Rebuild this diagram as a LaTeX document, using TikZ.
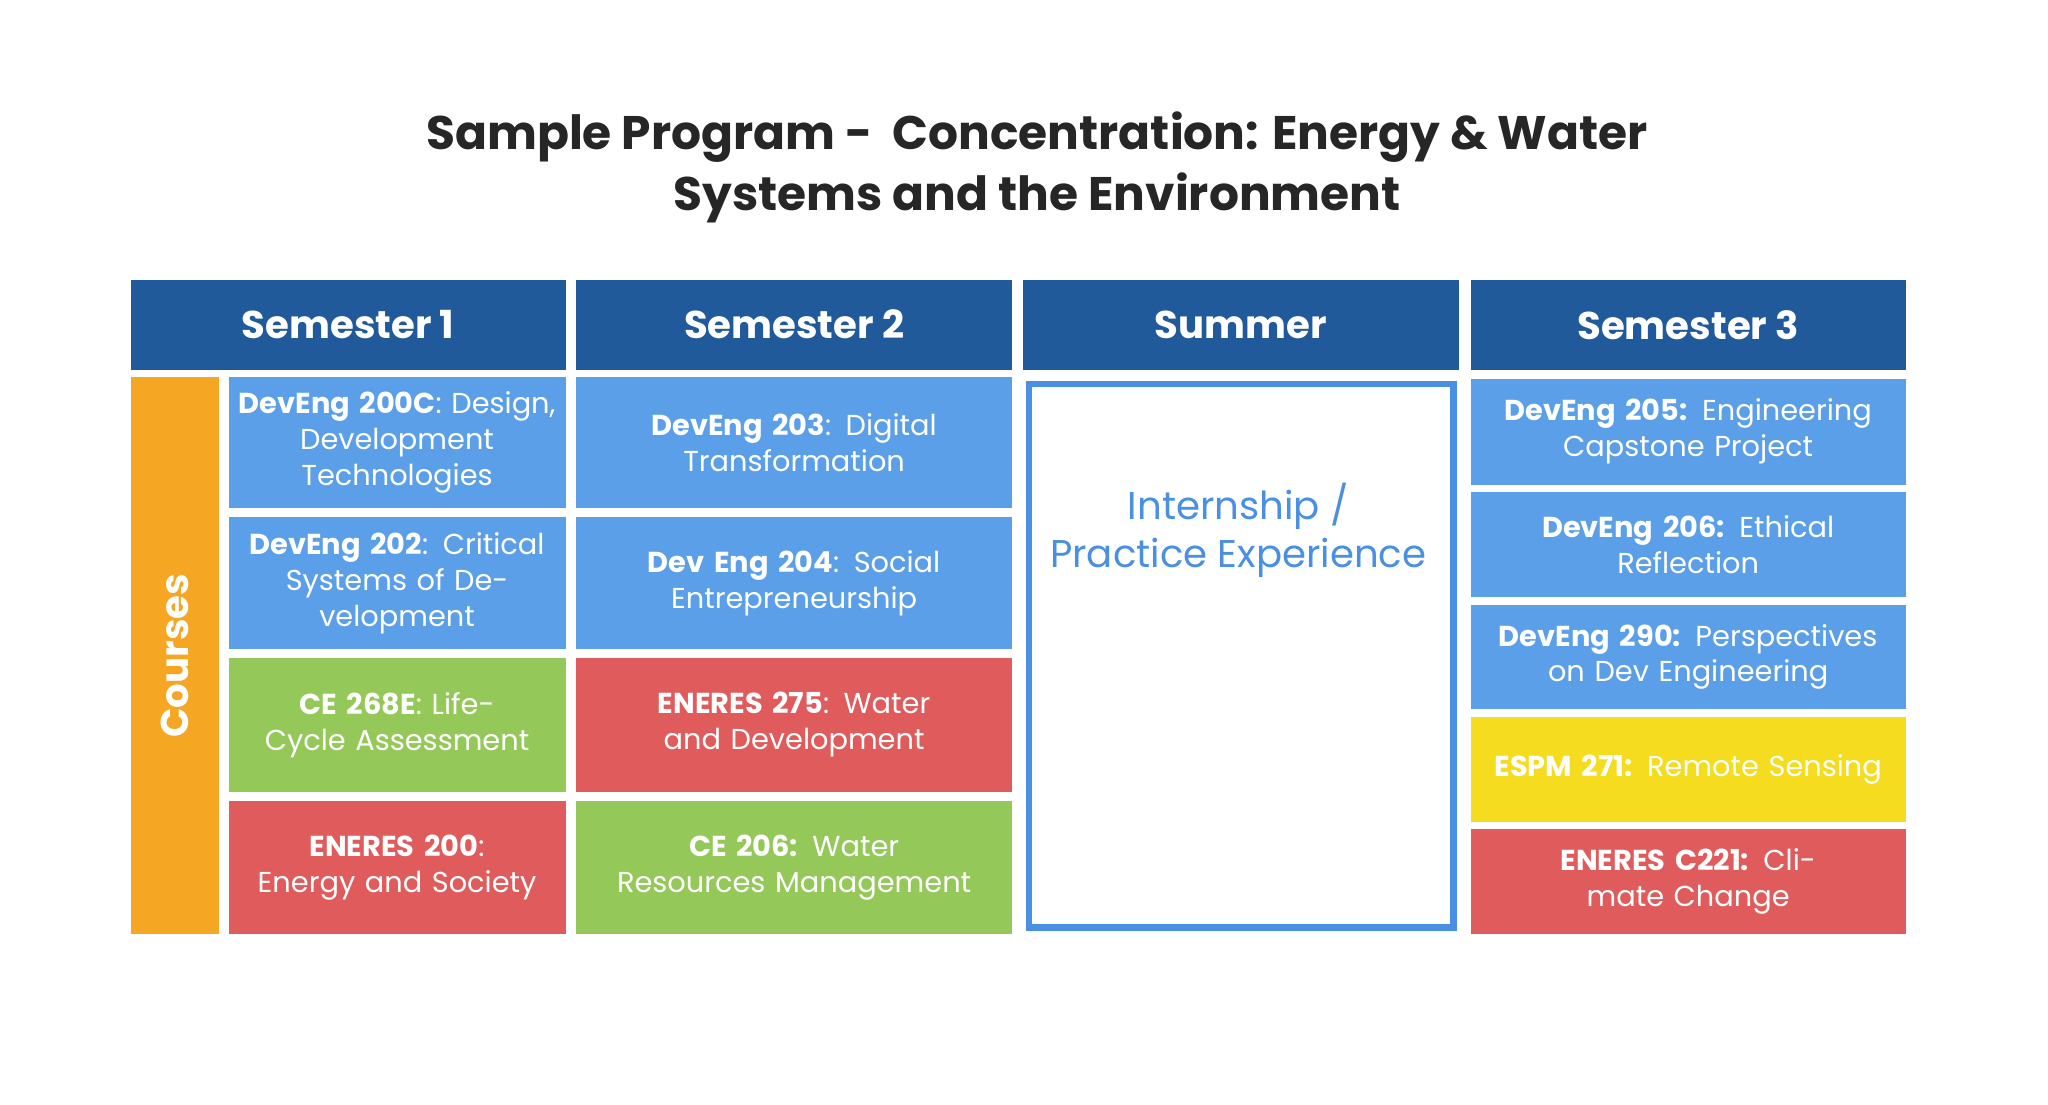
\documentclass[tikz,border=0pt]{standalone}
\usepackage{fontspec}
\setmainfont{Poppins}
\usetikzlibrary{positioning}
\newlength\px
\setlength\px{0.013061cm}
\definecolor{hdrblue}{HTML}{215A9A}
\definecolor{cblue}{HTML}{5B9FE8}
\definecolor{cgreen}{HTML}{94C95A}
\definecolor{cred}{HTML}{E05C5C}
\definecolor{cyellow}{HTML}{F5DC1E}
\definecolor{corange}{HTML}{F5A623}
\definecolor{boxblue}{HTML}{4A90E2}
\begin{document}
\begin{tikzpicture}[x = 0.013061cm, y = -0.013061cm,
  head/.style = {fill = hdrblue, text = white, font = \fontsize{11pt}{13pt}\selectfont\bfseries, inner sep = 0pt, minimum height = 69\px},
  cell/.style = {text = white, font = \fontsize{8.2pt}{10.2pt}\selectfont, align = center, inner sep = 0pt}]
  \useasboundingbox (0,0) rectangle (1568,846);
  % Title
  \node[font = \fontsize{13.4pt}{17.5pt}\selectfont\bfseries, align = center, text = black!85] (title) at (794,128) {Sample Program -\ \ Concentration: Energy \& Water\\Systems and the Environment};
    % Headers
    \node[head, minimum width = 333\px] (s1) at (266.5,248.5) {Semester 1};
    \node[head, minimum width = 334\px] (s2) at (608,248.5) {Semester 2};
    \node[head, minimum width = 334\px] (su) at (950,249) {Summer};
    \node[head, minimum width = 333\px] (s3) at (1292.5,249) {Semester 3};
    % Courses bar
    \node[fill = corange, inner sep = 0pt, minimum width = 68\px, minimum height = 426\px] (crs) at (134,502) {};
    \node[rotate = 90, text = white, font = \fontsize{11pt}{13pt}\selectfont\bfseries] (crslbl) at (crs) {Courses};
    % Semester 1
    \node[cell, fill = cblue, minimum width = 258\px, minimum height = 100\px, text width = 250\px] (a1) at (304,339) {\textbf{DevEng 200C}: Design,\\Development Technologies};
    \node[cell, fill = cblue, minimum width = 258\px, minimum height = 101\px, text width = 250\px] (a2) at (304,446.5) {\textbf{DevEng 202}: Critical\\Systems of Development};
    \node[cell, fill = cgreen, minimum width = 258\px, minimum height = 102\px, text width = 250\px] (a3) at (304,555) {\textbf{CE 268E}: Life-\\Cycle Assessment};
    \node[cell, fill = cred, minimum width = 258\px, minimum height = 102\px, text width = 250\px] (a4) at (304,664) {\textbf{ENERES 200}:\\Energy and Society};
    % Semester 2
    \node[cell, fill = cblue, minimum width = 334\px, minimum height = 100\px, text width = 320\px] (b1) at (608,339) {\textbf{DevEng 203}: Digital\\Transformation};
    \node[cell, fill = cblue, minimum width = 334\px, minimum height = 101\px, text width = 320\px] (b2) at (608,446.5) {\textbf{Dev Eng 204}: Social\\Entrepreneurship};
    \node[cell, fill = cred, minimum width = 334\px, minimum height = 102\px, text width = 320\px] (b3) at (608,555) {\textbf{ENERES 275}: Water\\and Development};
    \node[cell, fill = cgreen, minimum width = 334\px, minimum height = 102\px, text width = 320\px] (b4) at (608,664) {\textbf{CE 206:} Water\\Resources Management};
    % Summer
    \node[draw = boxblue, line width = 5\px, fill = white, minimum width = 325\px, minimum height = 416\px, inner sep = 0pt] (intern) at (950.5,502) {};
    \node[text = boxblue, font = \fontsize{11pt}{13.5pt}\selectfont, align = center] (internlbl) at (948,406) {Internship /\\Practice Experience};
    % Semester 3
    \node[cell, fill = cblue, minimum width = 333\px, minimum height = 81\px, text width = 320\px] (c1) at (1292.5,330.5) {\textbf{DevEng 205:} Engineering\\Capstone Project};
    \node[cell, fill = cblue, minimum width = 333\px, minimum height = 80\px, text width = 320\px] (c2) at (1292.5,417) {\textbf{DevEng 206:} Ethical\\Reflection};
    \node[cell, fill = cblue, minimum width = 333\px, minimum height = 80\px, text width = 320\px] (c3) at (1292.5,503) {\textbf{DevEng 290:} Perspectives\\on Dev Engineering};
    \node[cell, fill = cyellow, minimum width = 333\px, minimum height = 80\px, text width = 320\px] (c4) at (1292.5,589) {\textbf{ESPM 271:} Remote Sensing};
    \node[cell, fill = cred, minimum width = 333\px, minimum height = 80\px, text width = 320\px] (c5) at (1292.5,675) {\textbf{ENERES C221:} Climate Change};
\end{tikzpicture}
\end{document}
